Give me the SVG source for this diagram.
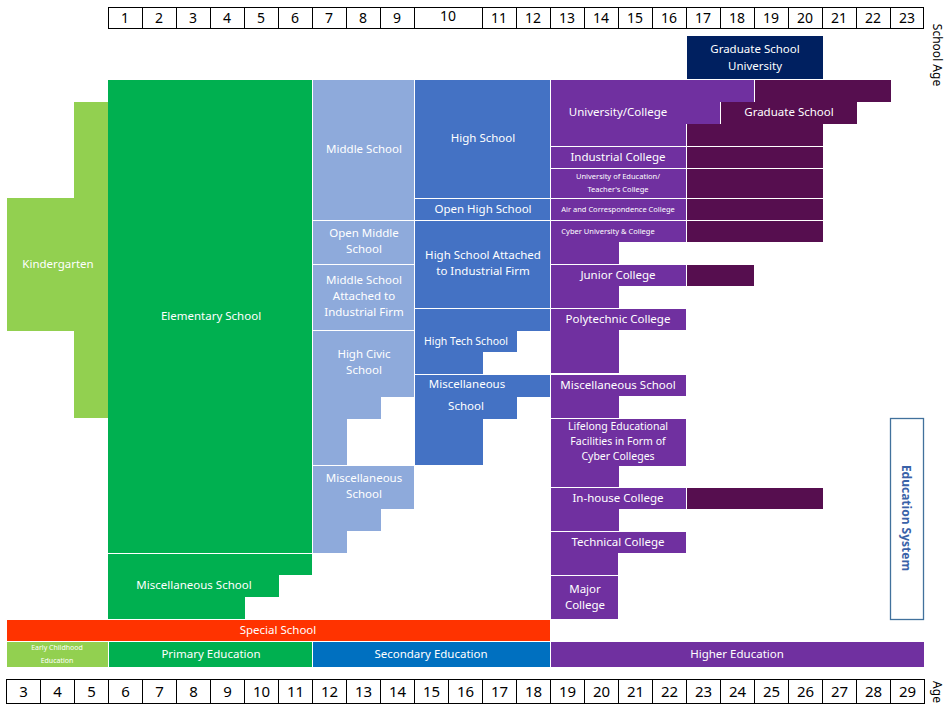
<svg xmlns="http://www.w3.org/2000/svg" width="951" height="708" viewBox="0 0 951 708">
<style>
.t{font-family:"Noto Sans","Liberation Sans",sans-serif;font-size:11.5px;fill:#fff;text-anchor:middle}
.s{font-size:7.5px}
.xs{font-size:7px}
.n{font-family:"Noto Sans","Liberation Sans",sans-serif;font-size:14px;fill:#000;text-anchor:middle}
.cell{fill:#fff;stroke:#000;stroke-width:1}
.kg{fill:#92d050}.el{fill:#00b050}.ms{fill:#8eaadb}.hs{fill:#4472c4}.un{fill:#7030a0}.gr{fill:#560e4f}
</style>
<g id="school-age-row">
<rect class="cell" x="108.5" y="7.5" width="815" height="21"/>
<path d="M142.5,7.5V28.5M176.5,7.5V28.5M210.5,7.5V28.5M244.5,7.5V28.5M278.5,7.5V28.5M312.5,7.5V28.5M346.5,7.5V28.5M380.5,7.5V28.5M414.5,7.5V28.5M482.5,7.5V28.5M516.5,7.5V28.5M550.5,7.5V28.5M584.5,7.5V28.5M618.5,7.5V28.5M652.5,7.5V28.5M686.5,7.5V28.5M720.5,7.5V28.5M754.5,7.5V28.5M788.5,7.5V28.5M822.5,7.5V28.5M856.5,7.5V28.5M890.5,7.5V28.5" stroke="#000" fill="none"/>
<text class="n" y="23"><tspan x="125">1</tspan><tspan x="159">2</tspan><tspan x="193">3</tspan><tspan x="227">4</tspan><tspan x="261">5</tspan><tspan x="295">6</tspan><tspan x="329">7</tspan><tspan x="363">8</tspan><tspan x="397">9</tspan><tspan x="448" y="21">10</tspan><tspan x="499" y="23">11</tspan><tspan x="533">12</tspan><tspan x="567">13</tspan><tspan x="601">14</tspan><tspan x="635">15</tspan><tspan x="669">16</tspan><tspan x="703">17</tspan><tspan x="737">18</tspan><tspan x="771">19</tspan><tspan x="805">20</tspan><tspan x="839">21</tspan><tspan x="873">22</tspan><tspan x="907">23</tspan></text>
<text class="n" style="font-size:12px" transform="translate(933,55) rotate(90)">School Age</text>
</g>
<g id="graduate-school-university">
<rect x="687" y="36" width="136" height="43" fill="#002060"/>
<text class="t" x="755" y="53">Graduate School</text>
<text class="t" x="755" y="70">University</text>
</g>
<g id="kindergarten">
<path class="kg" d="M74,102H108V418H74V331H7V198H74Z"/>
<text class="t" x="58" y="268">Kindergarten</text>
</g>
<g id="elementary-school">
<rect class="el" x="108" y="80" width="204" height="473"/>
<text class="t" x="211" y="320">Elementary School</text>
</g>
<g id="misc-elementary">
<path class="el" d="M108,554H312V575H279V597H245V619H108Z"/>
<text class="t" x="194" y="589">Miscellaneous School</text>
</g>
<g id="middle-school">
<rect class="ms" x="313" y="80" width="101" height="140"/>
<text class="t" x="364" y="153">Middle School</text>
</g>
<g id="open-middle-school">
<rect class="ms" x="313" y="221" width="101" height="43"/>
<text class="t" x="364" y="237">Open Middle</text>
<text class="t" x="364" y="253">School</text>
</g>
<g id="middle-school-attached">
<rect class="ms" x="313" y="265" width="101" height="65"/>
<text class="t" x="364" y="284">Middle School</text>
<text class="t" x="364" y="300">Attached to</text>
<text class="t" x="364" y="316">Industrial Firm</text>
</g>
<g id="high-civic-school">
<path class="ms" d="M313,331H414V397H381V419H347V465H313Z"/>
<text class="t" x="364" y="358">High Civic</text>
<text class="t" x="364" y="374">School</text>
</g>
<g id="misc-middle">
<path class="ms" d="M313,466H414V509H381V531H347V553H313Z"/>
<text class="t" x="364" y="482">Miscellaneous</text>
<text class="t" x="364" y="498">School</text>
</g>
<g id="high-school">
<rect class="hs" x="415" y="80" width="135" height="118"/>
<text class="t" x="483" y="142">High School</text>
</g>
<g id="open-high-school">
<rect class="hs" x="415" y="199" width="135" height="21"/>
<text class="t" x="483" y="213">Open High School</text>
</g>
<g id="high-school-attached">
<rect class="hs" x="415" y="221" width="135" height="87"/>
<text class="t" x="483" y="259">High School Attached</text>
<text class="t" x="483" y="275">to Industrial Firm</text>
</g>
<g id="high-tech-school">
<path class="hs" d="M415,309H550V331H517V352H483V374H415Z"/>
<text class="t" style="font-size:10.5px" x="466" y="345">High Tech School</text>
</g>
<g id="misc-high">
<path class="hs" d="M415,375H550V397H517V419H483V465H415Z"/>
<text class="t" x="467" y="388">Miscellaneous</text>
<text class="t" x="466" y="410">School</text>
</g>
<g id="university-college">
<path class="un" d="M551,80H754V102H720V124H686V146H551Z"/>
<text class="t" x="618" y="116">University/College</text>
</g>
<g id="graduate-school">
<path class="gr" d="M755,80H891V102H857V124H823V146H687V124H721V102H755Z"/>
<text class="t" x="789" y="116">Graduate School</text>
</g>
<g id="industrial-college">
<rect class="un" x="551" y="147" width="135" height="21"/>
<rect class="gr" x="687" y="147" width="136" height="21"/>
<text class="t" x="618" y="161">Industrial College</text>
</g>
<g id="university-of-education">
<rect class="un" x="551" y="169" width="135" height="29"/>
<rect class="gr" x="687" y="169" width="136" height="29"/>
<text class="t s" x="618" y="179">University of Education/</text>
<text class="t s" x="618" y="192">Teacher's College</text>
</g>
<g id="air-correspondence-college">
<rect class="un" x="551" y="199" width="135" height="21"/>
<rect class="gr" x="687" y="199" width="136" height="21"/>
<text class="t s" x="618" y="212">Air and Correspondence College</text>
</g>
<g id="cyber-university">
<path class="un" d="M551,221H686V242H619V264H551Z"/>
<rect class="gr" x="687" y="221" width="136" height="21"/>
<text class="t s" x="608" y="234">Cyber University &amp; College</text>
</g>
<g id="junior-college">
<path class="un" d="M551,265H686V286H619V308H551Z"/>
<rect class="gr" x="687" y="265" width="67" height="21"/>
<text class="t" x="618" y="279">Junior College</text>
</g>
<g id="polytechnic-college">
<path class="un" d="M551,309H686V330H619V373H551Z"/>
<text class="t" x="618" y="323">Polytechnic College</text>
</g>
<g id="misc-higher">
<path class="un" d="M551,375H686V396H619V418H551Z"/>
<text class="t" x="618" y="389">Miscellaneous School</text>
</g>
<g id="lifelong-educational-facilities">
<path class="un" d="M551,419H686V466H619V487H551Z"/>
<text class="t" style="font-size:10.5px" x="618" y="430">Lifelong Educational</text>
<text class="t" style="font-size:10.5px" x="618" y="445">Facilities in Form of</text>
<text class="t" style="font-size:10.5px" x="618" y="460">Cyber Colleges</text>
</g>
<g id="in-house-college">
<path class="un" d="M551,488H686V509H619V531H551Z"/>
<rect class="gr" x="687" y="488" width="136" height="21"/>
<text class="t" x="618" y="502">In-house College</text>
</g>
<g id="technical-college">
<path class="un" d="M551,532H686V553H618V575H551Z"/>
<text class="t" x="618" y="546">Technical College</text>
</g>
<g id="major-college">
<rect class="un" x="551" y="576" width="67" height="43"/>
<text class="t" x="585" y="593">Major</text>
<text class="t" x="585" y="609">College</text>
</g>
<g id="special-school">
<rect x="7" y="620" width="543" height="21" fill="#ff3300"/>
<text class="t" x="278" y="634">Special School</text>
</g>
<g id="education-levels">
<rect x="7" y="642" width="101" height="25" fill="#92d050"/>
<text class="t xs" x="57" y="650">Early Childhood</text>
<text class="t xs" x="57" y="663">Education</text>
<rect x="109" y="642" width="203" height="25" fill="#00b050"/>
<text class="t" x="211" y="658">Primary Education</text>
<rect x="313" y="642" width="237" height="25" fill="#0070c0"/>
<text class="t" x="431" y="658">Secondary Education</text>
<rect x="551" y="642" width="373" height="25" fill="#7030a0"/>
<text class="t" x="737" y="658">Higher Education</text>
</g>
<g id="education-system">
<rect x="890.5" y="418.5" width="33" height="201" fill="#fff" stroke="#41719c" stroke-width="1.3"/>
<text transform="translate(902,518) rotate(90)" style="font-family:'Noto Sans','Liberation Sans',sans-serif;font-size:12px;font-weight:bold;fill:#3a62a8;text-anchor:middle">Education System</text>
</g>
<g id="age-row">
<rect class="cell" x="6.5" y="679.5" width="918" height="24"/>
<path d="M40.5,679.5V703.5M74.5,679.5V703.5M108.5,679.5V703.5M142.5,679.5V703.5M176.5,679.5V703.5M210.5,679.5V703.5M244.5,679.5V703.5M278.5,679.5V703.5M312.5,679.5V703.5M346.5,679.5V703.5M380.5,679.5V703.5M414.5,679.5V703.5M448.5,679.5V703.5M482.5,679.5V703.5M516.5,679.5V703.5M550.5,679.5V703.5M584.5,679.5V703.5M618.5,679.5V703.5M652.5,679.5V703.5M686.5,679.5V703.5M720.5,679.5V703.5M754.5,679.5V703.5M788.5,679.5V703.5M822.5,679.5V703.5M856.5,679.5V703.5M890.5,679.5V703.5" stroke="#000" fill="none"/>
<text class="n" style="font-size:15px" y="697"><tspan x="23.5">3</tspan><tspan x="57.5">4</tspan><tspan x="91.5">5</tspan><tspan x="125.5">6</tspan><tspan x="159.5">7</tspan><tspan x="193.5">8</tspan><tspan x="227.5">9</tspan><tspan x="261.5">10</tspan><tspan x="295.5">11</tspan><tspan x="329.5">12</tspan><tspan x="363.5">13</tspan><tspan x="397.5">14</tspan><tspan x="431.5">15</tspan><tspan x="465.5">16</tspan><tspan x="499.5">17</tspan><tspan x="533.5">18</tspan><tspan x="567.5">19</tspan><tspan x="601.5">20</tspan><tspan x="635.5">21</tspan><tspan x="669.5">22</tspan><tspan x="703.5">23</tspan><tspan x="737.5">24</tspan><tspan x="771.5">25</tspan><tspan x="805.5">26</tspan><tspan x="839.5">27</tspan><tspan x="873.5">28</tspan><tspan x="907.5">29</tspan></text>
<text class="n" style="font-size:12px" transform="translate(933,692) rotate(90)">Age</text>
</g>
<g id="connectors"/>
</svg>
